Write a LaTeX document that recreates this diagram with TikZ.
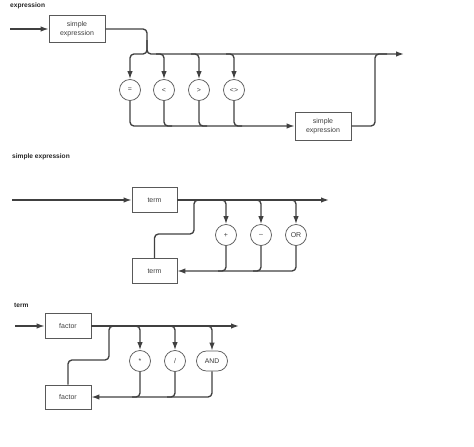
\documentclass[tikz,border=0pt]{standalone}
\usepackage{fontspec}
\setmainfont{Liberation Sans}
\usetikzlibrary{arrows.meta,calc,shapes.misc}
\begin{document}
\begin{tikzpicture}[x=1pt,y=-1pt,
  line/.style={draw=black!75, line width=1.35pt, rounded corners=4pt},
  flow/.style={line, -{Latex[length=8pt,width=5.5pt]}},
  box/.style={draw=black!65, line width=0.75pt, align=center, inner sep=0pt,
    text=black!75, font=\fontsize{7}{8.5}\selectfont},
  sym/.style={draw=black!65, line width=0.75pt, circle, minimum size=21pt, inner sep=0pt,
    text=black!75, font=\fontsize{7}{8.5}\selectfont},
  symwide/.style={draw=black!65, line width=0.75pt, rounded rectangle, minimum width=31pt,
    minimum height=20pt, inner sep=0pt, text=black!80, font=\fontsize{6.8}{8}\selectfont},
  title/.style={anchor=west, inner sep=0pt, text=black!85, font=\bfseries\fontsize{6.6}{8}\selectfont}]
\useasboundingbox (0,0) rectangle (474,447);

% ---------------- expression ----------------
\node[title] (te) at (10,6) {expression};
\coordinate (e0) at (10,29);
\node[box, minimum width=56pt, minimum height=27pt] (se1) at (77,29) {simple\\expression};
\node[sym] (eq) at (130,90) {=};
\node[sym] (lt) at (164,90) {<};
\node[sym] (gt) at (199,90) {>};
\node[sym] (ne) at (234,90) {<>};
\node[box, minimum width=56pt, minimum height=28pt] (se2) at (323,126) {simple\\expression};
\coordinate (ej) at (147,54);
\coordinate (ejt) at (147,40);
\coordinate (eend) at (404,54);
\coordinate (er) at (375,54);
\coordinate (erx) at (387,54);

\draw[flow] (e0) -- (se1.west);
\draw[flow] (se1.east) -- (ej |- se1.east) -- (ej) -| (eq.north);
\draw[flow] (ejt) |- (eend);
\draw[flow] ($(lt.north|-ej)+(-8,0)$) -| (lt.north);
\draw[flow] ($(gt.north|-ej)+(-8,0)$) -| (gt.north);
\draw[flow] ($(ne.north|-ej)+(-8,0)$) -| (ne.north);
\draw[flow] (eq.south) |- (se2.west);
\draw[line] (lt.south) |- ($(lt.south|-se2.west)+(8,0)$);
\draw[line] (gt.south) |- ($(gt.south|-se2.west)+(8,0)$);
\draw[line] (ne.south) |- ($(ne.south|-se2.west)+(8,0)$);
\draw[line] (se2.east) -| (er) -- (erx);

% ---------------- simple expression ----------------
\node[title] (tse) at (12,157) {simple expression};
\coordinate (s0) at (12,200);
\node[box, minimum width=45pt, minimum height=25pt] (t1) at (154.5,200) {term};
\node[box, minimum width=45pt, minimum height=25pt] (t2) at (154.5,271) {term};
\node[sym] (plus) at (226,235) {+};
\node[sym] (minus) at (261,235) {–};
\node[sym] (or) at (296,235) {OR};
\coordinate (send) at (329,200);
\coordinate (sl) at (194,200);
\coordinate (slm) at (174,234);

\draw[flow] (s0) -- (t1.west);
\draw[flow] (t1.east) -- (send);
\draw[flow] ($(plus.north|-t1.east)+(-8,0)$) -| (plus.north);
\draw[flow] ($(minus.north|-t1.east)+(-8,0)$) -| (minus.north);
\draw[flow] ($(or.north|-t1.east)+(-8,0)$) -| (or.north);
\draw[flow] (or.south) |- (t2.east);
\draw[line] (plus.south) |- ($(plus.south|-t2.east)+(-8,0)$);
\draw[line] (minus.south) |- ($(minus.south|-t2.east)+(-8,0)$);
\draw[line] (t2.north) |- (slm) -| (sl) -- ($(sl)+(8,0)$);

% ---------------- term ----------------
\node[title] (tt) at (14,305) {term};
\coordinate (f0) at (15,326);
\node[box, minimum width=46pt, minimum height=25pt] (f1) at (68,326) {factor};
\node[box, minimum width=46pt, minimum height=24pt] (f2) at (68,397) {factor};
\node[sym] (mul) at (140,361) {\raisebox{-2pt}{*}};
\node[sym] (div) at (175,361) {/};
\node[symwide] (and) at (212,361) {AND};
\coordinate (fend) at (239,326);
\coordinate (fl) at (109,326);
\coordinate (flm) at (90,360);

\draw[flow] (f0) -- (f1.west);
\draw[flow] (f1.east) -- (fend);
\draw[flow] ($(mul.north|-f1.east)+(-8,0)$) -| (mul.north);
\draw[flow] ($(div.north|-f1.east)+(-8,0)$) -| (div.north);
\draw[flow] ($(and.north|-f1.east)+(-8,0)$) -| (and.north);
\draw[flow] (and.south) |- (f2.east);
\draw[line] (mul.south) |- ($(mul.south|-f2.east)+(-8,0)$);
\draw[line] (div.south) |- ($(div.south|-f2.east)+(-8,0)$);
\draw[line] (f2.north) |- (flm) -| (fl) -- ($(fl)+(8,0)$);
\end{tikzpicture}
\end{document}
